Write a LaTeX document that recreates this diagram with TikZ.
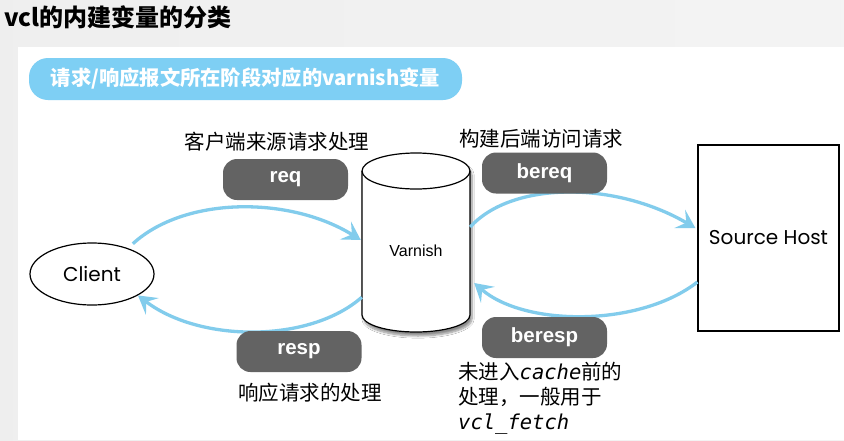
\documentclass[tikz,border=0pt]{standalone}
\usepackage{fontspec}
\setmainfont{Liberation Sans}
\newfontfamily\cjk{Noto Sans CJK SC}
\newfontfamily\geo{Poppins}
\newfontfamily\mono{DejaVu Sans Mono}
\usetikzlibrary{arrows.meta,shapes.geometric,shadows.blur}
\definecolor{pillblue}{HTML}{7ECFF4}
\definecolor{pillgray}{HTML}{636363}
\definecolor{flow}{HTML}{82CCEC}
\tikzset{
  pill/.style={fill=pillgray, rounded corners=14pt, minimum width=125pt, minimum height=41pt,
    inner sep=0pt, text=white, font=\fontsize{20.5}{24}\selectfont\bfseries},
  lab/.style={font=\cjk\fontsize{20.5}{25}\selectfont, inner sep=0pt},
  flowarrow/.style={draw=flow, line width=3.3pt,
    -{Stealth[length=18pt,width=21pt,inset=7.5pt]}},
  geotext/.style={font=\geo\fontsize{20}{24}\selectfont}
}
\begin{document}
\begin{tikzpicture}[x=1pt,y=-1pt]
\useasboundingbox (0,0) rectangle (844,440);
% background
\shade[left color=gray!13, right color=gray!9] (0,0) rectangle (844,440);
\fill[white] (18,47) rectangle (844,440);
% title
\node[anchor=west, inner sep=0pt, font=\cjk\fontsize{24}{28}\selectfont\bfseries] (title) at (4,17) {vcl的内建变量的分类};
% blue header pill
\node[fill=pillblue, rounded corners=19pt, minimum width=433pt, minimum height=42pt, inner sep=0pt,
  text=white, font=\cjk\fontsize{20.3}{24}\selectfont\bfseries] (header) at (245.5,79) {请求/响应报文所在阶段对应的varnish变量};
% client
\node[draw=black, line width=1.2pt, ellipse, minimum width=124pt, minimum height=62pt, inner sep=0pt, geotext] (client) at (92,274) {Client};
% varnish cylinder
\node[minimum width=108pt, minimum height=144pt, inner sep=0pt] (varnish) at (416,243) {};
\draw[fill=white, line width=1.2pt, blur shadow={shadow blur steps=8, shadow xshift=2pt, shadow yshift=-4pt, shadow opacity=45}]
  (362,171) -- (362,315) arc[start angle=180, end angle=0, x radius=54, y radius=17]
  -- (470,171) arc[start angle=0, end angle=-180, x radius=54, y radius=18] -- cycle;
\draw[line width=1.2pt] (362,171) arc[start angle=180, end angle=0, x radius=54, y radius=18];
\node[font=\fontsize{16}{19}\selectfont, inner sep=0pt] (vlabel) at (416,251) {Varnish};
% source host
\node[draw=black, line width=1.2pt, minimum width=141pt, minimum height=186pt, inner sep=0pt, geotext] (host) at (768.5,238) {Source Host};
% arrows
\draw[flowarrow] ([shift={(6pt,4pt)}]client.37) .. controls (185,196) and (290,196) .. ([xshift=-1pt,yshift=3pt]varnish.west);
\draw[flowarrow] ([yshift=18pt]varnish.south west) .. controls (310,343) and (200,343) .. (client.-25);
\draw[flowarrow] ([yshift=16pt]varnish.east) .. controls (512,181) and (615,181) .. ([xshift=-2pt,yshift=10pt]host.west);
\draw[flowarrow] ([yshift=-44pt]host.west) .. controls (640,327) and (525,327) .. ([xshift=4pt,yshift=-40pt]varnish.east);
% pills
\node[pill] (req) at (285.5,179.5) {req};
\node[pill] (resp) at (299,351.5) {resp};
\node[pill] (bereq) at (544.5,173) {bereq};
\node[pill] (beresp) at (544.5,337.5) {beresp};
% labels
\node[lab] (l1) at (277,142) {客户端来源请求处理};
\node[lab] (l2) at (541,139) {构建后端访问请求};
\node[lab] (l3) at (310,393) {响应请求的处理};
\node[lab, anchor=north west, align=left] (l4) at (458,362)
  {未进入{\mono\itshape cache}前的\\处理，一般用于\\{\mono\itshape vcl\_fetch}};
\end{tikzpicture}
\end{document}
